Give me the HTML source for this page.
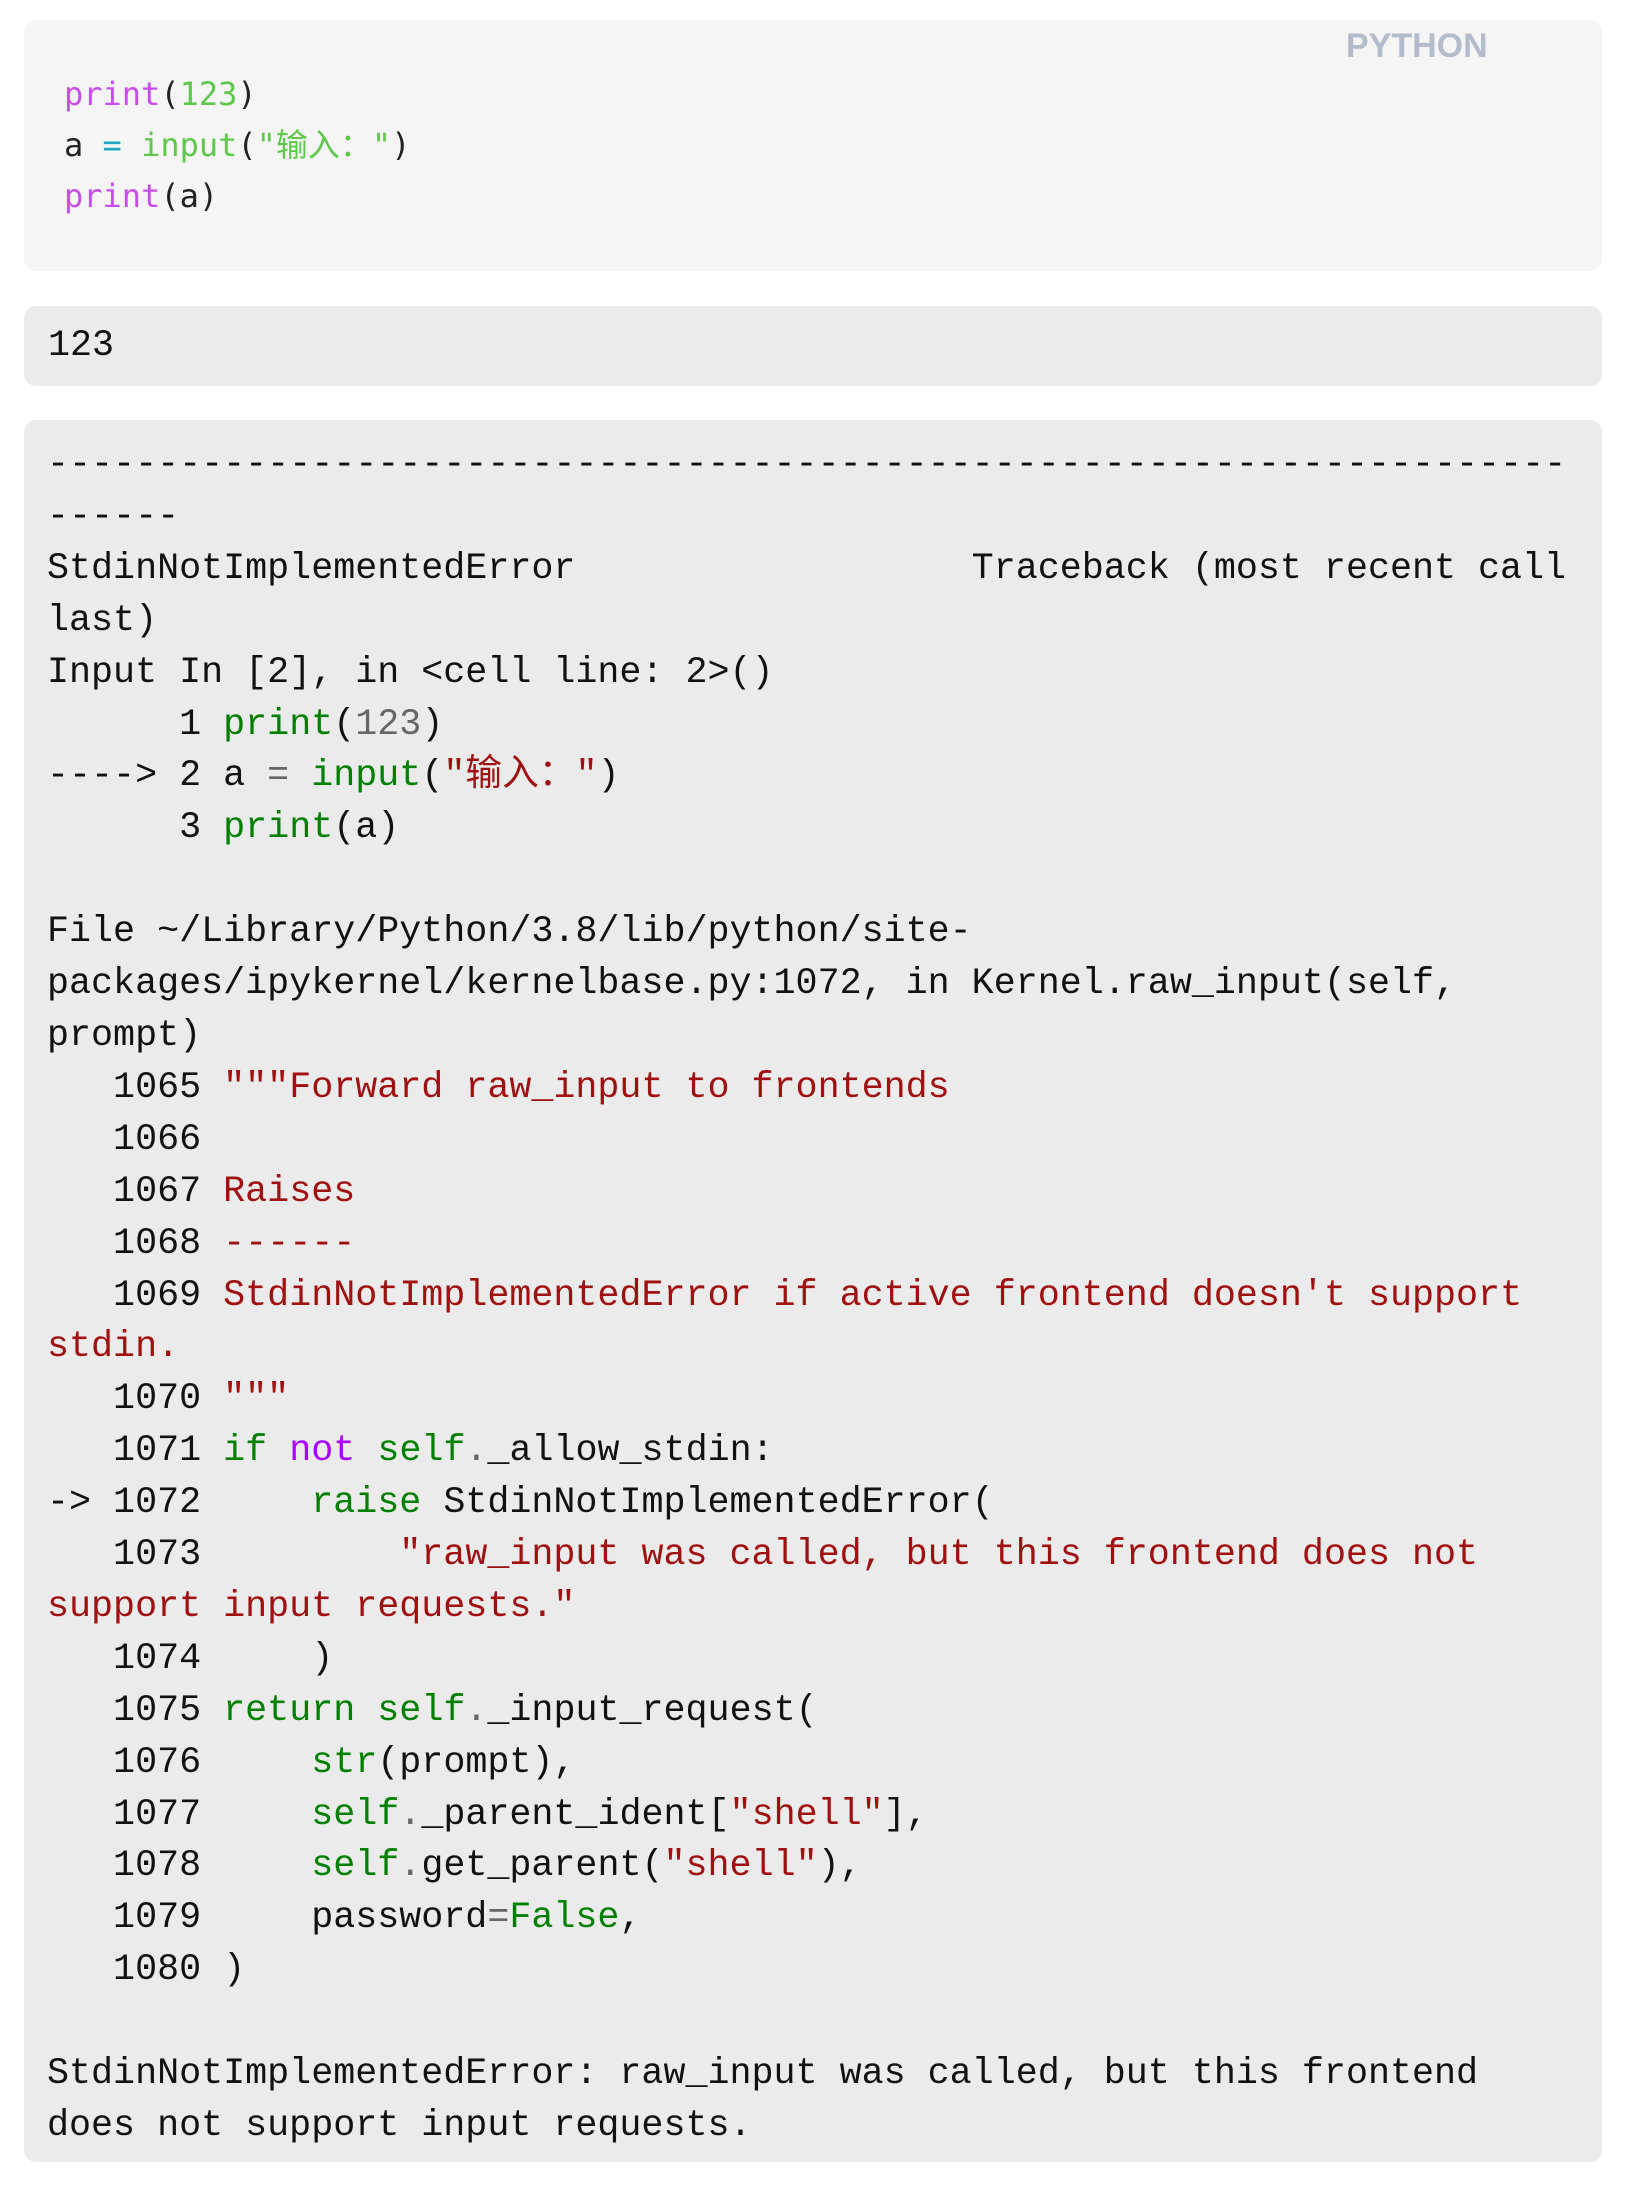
<!DOCTYPE html>
<html><head><meta charset="utf-8"><style>
html,body{margin:0;padding:0;background:#fff;width:1630px;height:2198px;overflow:hidden;position:relative}
.b{position:absolute;left:24px;width:1578px;border-radius:12px}
pre{margin:0;position:absolute}
.c1{font-family:"DejaVu Sans Mono","Noto Sans CJK SC",monospace;font-size:32px;line-height:51px;color:#222;left:64px;top:69px}
.m{font-family:"Liberation Mono","Noto Sans CJK SC",monospace;font-size:36.7px;line-height:51.9px;color:#111}
.p{color:#c74ded}.g{color:#5ec84a}.cy{color:#1fa8c6}
.r{color:#a01010}.k{color:#008000}.n{color:#a0f}.gr{color:#666}
</style></head><body>
<div class="b" style="top:20px;height:251px;background:#f5f5f5"></div>
<div style="position:absolute;left:1346px;top:27px;font-family:'Liberation Sans',sans-serif;font-weight:bold;font-size:34px;color:#b3bccb">PYTHON</div>
<pre class="c1"><span class="p">print</span>(<span class="g">123</span>)
a <span class="cy">=</span> <span class="g">input</span>(<span class="g">"输入："</span>)
<span class="p">print</span>(a)</pre>
<div class="b" style="top:306px;height:80px;background:#ebebeb"></div>
<pre class="m" style="left:48px;top:321px">123</pre>
<div class="b" style="top:420px;height:1742px;background:#ebebeb"></div>
<pre class="m" style="left:47px;top:440px">---------------------------------------------------------------------
------
StdinNotImplementedError                  Traceback (most recent call
last)
Input In [2], in &lt;cell line: 2&gt;()
      1 <span class="k">print</span>(<span class="gr">123</span>)
----&gt; 2 a <span class="gr">=</span> <span class="k">input</span>(<span class="r">"输入："</span>)
      3 <span class="k">print</span>(a)

File ~/Library/Python/3.8/lib/python/site-
packages/ipykernel/kernelbase.py:1072, in Kernel.raw_input(self,
prompt)
   1065 <span class="r">"""Forward raw_input to frontends</span>
   1066 
   1067 <span class="r">Raises</span>
   1068 <span class="r">------</span>
   1069 <span class="r">StdinNotImplementedError if active frontend doesn't support</span>
<span class="r">stdin.</span>
   1070 <span class="r">"""</span>
   1071 <span class="k">if</span> <span class="n">not</span> <span class="k">self</span><span class="gr">.</span>_allow_stdin:
-&gt; 1072     <span class="k">raise</span> StdinNotImplementedError(
   1073         <span class="r">"raw_input was called, but this frontend does not</span>
<span class="r">support input requests."</span>
   1074     )
   1075 <span class="k">return</span> <span class="k">self</span><span class="gr">.</span>_input_request(
   1076     <span class="k">str</span>(prompt),
   1077     <span class="k">self</span><span class="gr">.</span>_parent_ident[<span class="r">"shell"</span>],
   1078     <span class="k">self</span><span class="gr">.</span>get_parent(<span class="r">"shell"</span>),
   1079     password<span class="gr">=</span><span class="k">False</span>,
   1080 )

StdinNotImplementedError: raw_input was called, but this frontend
does not support input requests.</pre>
</body></html>
